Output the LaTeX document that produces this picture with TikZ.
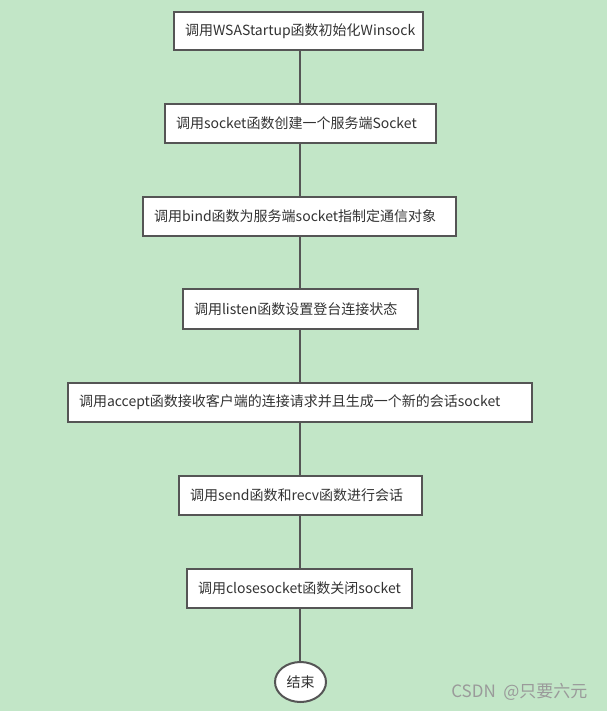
\documentclass[tikz,border=0pt]{standalone}
\usepackage{fontspec}
\setmainfont{Noto Sans CJK SC}
\usetikzlibrary{shapes.geometric}
\definecolor{bg}{HTML}{C2E6C7}
\definecolor{edge}{HTML}{555555}
\definecolor{txt}{HTML}{333333}
\definecolor{wm}{HTML}{9A9A9A}
\tikzset{
  stepbox/.style={draw=edge, line width=2pt, fill=white, rectangle, inner ysep=0pt, inner xsep=11pt, align=left, text=txt, font=\fontsize{14}{16}\selectfont},
  endnode/.style={draw=edge, line width=2pt, fill=white, ellipse, inner sep=0pt, minimum width=51pt, minimum height=40pt, text=txt, font=\fontsize{14}{16}\selectfont},
  link/.style={draw=edge, line width=2pt}
}
\begin{document}
\begin{tikzpicture}[x=1pt,y=-1pt]
\fill[bg] (0,0) rectangle (607,711);
\useasboundingbox (0,0) rectangle (607,711);
\node[stepbox, text width=227pt, minimum height=38pt] (n1) at (298.5,31) {调用WSAStartup函数初始化Winsock};
\node[stepbox, text width=249pt, minimum height=39pt] (n2) at (300.5,123.5) {调用socket函数创建一个服务端Socket};
\node[stepbox, text width=291pt, minimum height=39pt] (n3) at (299.5,216.5) {调用bind函数为服务端socket指制定通信对象};
\node[stepbox, text width=213pt, minimum height=40pt] (n4) at (300.5,309) {调用listen函数设置登台连接状态};
\node[stepbox, text width=442pt, minimum height=39pt] (n5) at (300,402.5) {调用accept函数接收客户端的连接请求并且生成一个新的会话socket};
\node[stepbox, text width=221pt, minimum height=39pt] (n6) at (300.5,495.5) {调用send函数和recv函数进行会话};
\node[stepbox, text width=203pt, minimum height=39pt] (n7) at (299.5,588.5) {调用closesocket函数关闭socket};
\node[endnode] (n8) at (300.5,682) {结束};
\draw[link] (300,50) -- (n2.north -| 300,0);
\draw[link] (n2.south -| 300,0) -- (n3.north -| 300,0);
\draw[link] (n3.south -| 300,0) -- (n4.north -| 300,0);
\draw[link] (n4.south -| 300,0) -- (n5.north -| 300,0);
\draw[link] (n5.south -| 300,0) -- (n6.north -| 300,0);
\draw[link] (n6.south -| 300,0) -- (n7.north -| 300,0);
\draw[link] (n7.south -| 300,0) -- (n8.north -| 300,0);
\node[text=wm, font=\fontsize{17}{20}\selectfont, anchor=east] (wm) at (591,692) {CSDN\ \ @只要六元};
\end{tikzpicture}
\end{document}
